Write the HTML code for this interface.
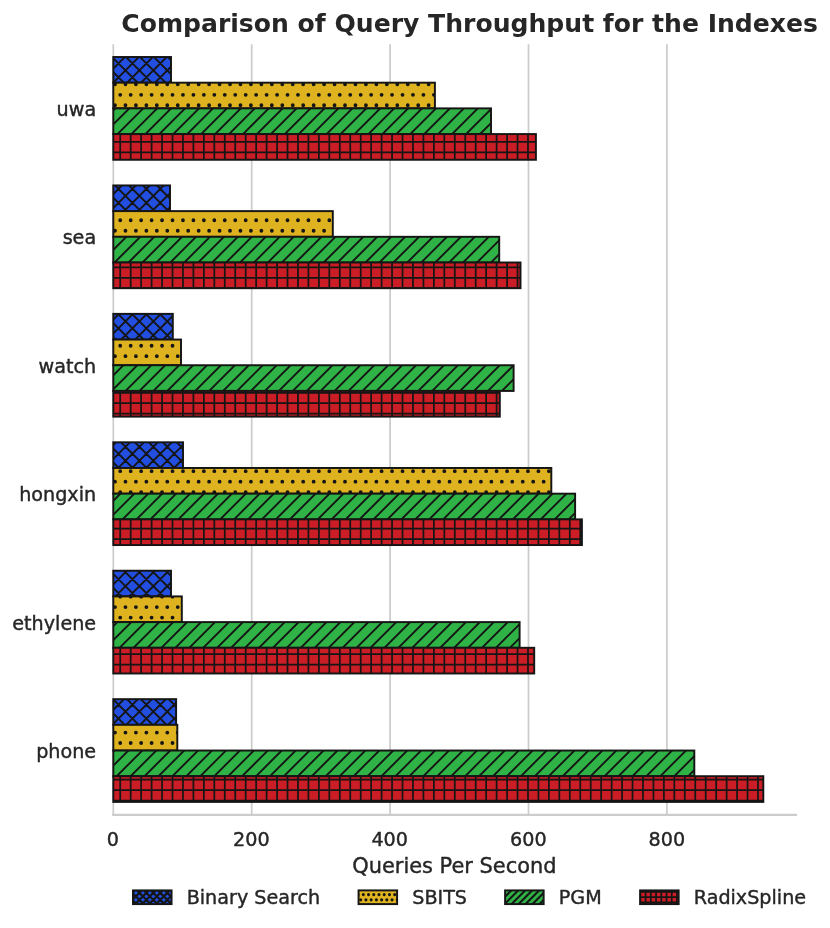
<!DOCTYPE html>
<html><head><meta charset="utf-8"><title>Comparison of Query Throughput for the Indexes</title>
<style>html,body{margin:0;padding:0;background:#fff}body{width:830px;height:928px;overflow:hidden}</style></head>
<body>
<svg width="830" height="928" viewBox="0 0 830 928" style="display:block">
<rect width="830" height="928" fill="#fff"/>
<path d="M113.3 44.16V814.8M251.7 44.16V814.8M390.1 44.16V814.8M528.5 44.16V814.8M666.9 44.16V814.8" stroke="#cccccc" stroke-width="1.74" fill="none"/>
<rect x="113.3" y="57.01" width="57.7" height="25.69" fill="#224fdf"/><svg x="113.3" y="57.01" width="57.7" height="25.69" viewBox="113.3 57.01 57.7 25.69"><path d="M69.35 84.69L99.03 55.01M83.29 84.69L112.97 55.01M97.23 84.69L126.91 55.01M111.17 84.69L140.85 55.01M125.11 84.69L154.79 55.01M139.05 84.69L168.73 55.01M152.99 84.69L182.67 55.01M166.93 84.69L196.61 55.01M68.25 55.01L97.93 84.69M82.19 55.01L111.87 84.69M96.13 55.01L125.81 84.69M110.07 55.01L139.75 84.69M124.01 55.01L153.69 84.69M137.95 55.01L167.63 84.69M151.89 55.01L181.57 84.69M165.83 55.01L195.51 84.69" stroke="#151515" stroke-width="1.9" fill="none"/></svg><rect x="113.3" y="57.01" width="57.7" height="25.69" fill="none" stroke="#151515" stroke-width="1.95"/>

<rect x="113.3" y="185.44" width="56.7" height="25.69" fill="#224fdf"/><svg x="113.3" y="185.44" width="56.7" height="25.69" viewBox="113.3 185.44 56.7 25.69"><path d="M66.38 213.12L96.06 183.44M80.32 213.12L110 183.44M94.26 213.12L123.94 183.44M108.2 213.12L137.88 183.44M122.14 213.12L151.82 183.44M136.08 213.12L165.76 183.44M150.02 213.12L179.7 183.44M163.96 213.12L193.64 183.44M71.22 183.44L100.9 213.12M85.16 183.44L114.84 213.12M99.1 183.44L128.78 213.12M113.04 183.44L142.72 213.12M126.98 183.44L156.66 213.12M140.92 183.44L170.6 213.12M154.86 183.44L184.54 213.12M168.8 183.44L198.48 213.12" stroke="#151515" stroke-width="1.9" fill="none"/></svg><rect x="113.3" y="185.44" width="56.7" height="25.69" fill="none" stroke="#151515" stroke-width="1.95"/>

<rect x="113.3" y="313.87" width="59.5" height="25.69" fill="#224fdf"/><svg x="113.3" y="313.87" width="59.5" height="25.69" viewBox="113.3 313.87 59.5 25.69"><path d="M63.41 341.55L93.09 311.87M77.35 341.55L107.03 311.87M91.29 341.55L120.97 311.87M105.23 341.55L134.91 311.87M119.17 341.55L148.85 311.87M133.11 341.55L162.79 311.87M147.05 341.55L176.73 311.87M160.99 341.55L190.67 311.87M60.25 311.87L89.93 341.55M74.19 311.87L103.87 341.55M88.13 311.87L117.81 341.55M102.07 311.87L131.75 341.55M116.01 311.87L145.69 341.55M129.95 311.87L159.63 341.55M143.89 311.87L173.57 341.55M157.83 311.87L187.51 341.55M171.77 311.87L201.45 341.55" stroke="#151515" stroke-width="1.9" fill="none"/></svg><rect x="113.3" y="313.87" width="59.5" height="25.69" fill="none" stroke="#151515" stroke-width="1.95"/>

<rect x="113.3" y="442.3" width="69.7" height="25.69" fill="#224fdf"/><svg x="113.3" y="442.3" width="69.7" height="25.69" viewBox="113.3 442.3 69.7 25.69"><path d="M60.44 469.98L90.12 440.3M74.38 469.98L104.06 440.3M88.32 469.98L118 440.3M102.26 469.98L131.94 440.3M116.2 469.98L145.88 440.3M130.14 469.98L159.82 440.3M144.08 469.98L173.76 440.3M158.02 469.98L187.7 440.3M171.96 469.98L201.64 440.3M63.22 440.3L92.9 469.98M77.16 440.3L106.84 469.98M91.1 440.3L120.78 469.98M105.04 440.3L134.72 469.98M118.98 440.3L148.66 469.98M132.92 440.3L162.6 469.98M146.86 440.3L176.54 469.98M160.8 440.3L190.48 469.98M174.74 440.3L204.42 469.98" stroke="#151515" stroke-width="1.9" fill="none"/></svg><rect x="113.3" y="442.3" width="69.7" height="25.69" fill="none" stroke="#151515" stroke-width="1.95"/>

<rect x="113.3" y="570.73" width="57.7" height="25.69" fill="#224fdf"/><svg x="113.3" y="570.73" width="57.7" height="25.69" viewBox="113.3 570.73 57.7 25.69"><path d="M71.41 598.41L101.09 568.73M85.35 598.41L115.03 568.73M99.29 598.41L128.97 568.73M113.23 598.41L142.91 568.73M127.17 598.41L156.85 568.73M141.11 598.41L170.79 568.73M155.05 598.41L184.73 568.73M168.99 598.41L198.67 568.73M66.19 568.73L95.87 598.41M80.13 568.73L109.81 598.41M94.07 568.73L123.75 598.41M108.01 568.73L137.69 598.41M121.95 568.73L151.63 598.41M135.89 568.73L165.57 598.41M149.83 568.73L179.51 598.41M163.77 568.73L193.45 598.41" stroke="#151515" stroke-width="1.9" fill="none"/></svg><rect x="113.3" y="570.73" width="57.7" height="25.69" fill="none" stroke="#151515" stroke-width="1.95"/>

<rect x="113.3" y="699.16" width="62.8" height="25.69" fill="#224fdf"/><svg x="113.3" y="699.16" width="62.8" height="25.69" viewBox="113.3 699.16 62.8 25.69"><path d="M68.44 726.84L98.12 697.16M82.38 726.84L112.06 697.16M96.32 726.84L126 697.16M110.26 726.84L139.94 697.16M124.2 726.84L153.88 697.16M138.14 726.84L167.82 697.16M152.08 726.84L181.76 697.16M166.02 726.84L195.7 697.16M69.16 697.16L98.84 726.84M83.1 697.16L112.78 726.84M97.04 697.16L126.72 726.84M110.98 697.16L140.66 726.84M124.92 697.16L154.6 726.84M138.86 697.16L168.54 726.84M152.8 697.16L182.48 726.84M166.74 697.16L196.42 726.84" stroke="#151515" stroke-width="1.9" fill="none"/></svg><rect x="113.3" y="699.16" width="62.8" height="25.69" fill="none" stroke="#151515" stroke-width="1.95"/>

<rect x="113.3" y="82.69" width="321.6" height="25.69" fill="#dfb320"/><svg x="113.3" y="82.69" width="321.6" height="25.69" viewBox="113.3 82.69 321.6 25.69"><path d="M115 84.34h0M125.46 84.34h0M135.91 84.34h0M146.37 84.34h0M156.82 84.34h0M167.28 84.34h0M177.74 84.34h0M188.19 84.34h0M198.65 84.34h0M209.1 84.34h0M219.56 84.34h0M230.01 84.34h0M240.47 84.34h0M250.92 84.34h0M261.38 84.34h0M271.83 84.34h0M282.29 84.34h0M292.74 84.34h0M303.19 84.34h0M313.65 84.34h0M324.11 84.34h0M334.56 84.34h0M345.01 84.34h0M355.47 84.34h0M365.93 84.34h0M376.38 84.34h0M386.83 84.34h0M397.29 84.34h0M407.75 84.34h0M418.2 84.34h0M428.66 84.34h0M120.23 94.8h0M130.69 94.8h0M141.14 94.8h0M151.6 94.8h0M162.05 94.8h0M172.51 94.8h0M182.96 94.8h0M193.42 94.8h0M203.87 94.8h0M214.33 94.8h0M224.78 94.8h0M235.24 94.8h0M245.69 94.8h0M256.15 94.8h0M266.6 94.8h0M277.06 94.8h0M287.51 94.8h0M297.97 94.8h0M308.42 94.8h0M318.88 94.8h0M329.33 94.8h0M339.79 94.8h0M350.24 94.8h0M360.7 94.8h0M371.15 94.8h0M381.61 94.8h0M392.06 94.8h0M402.52 94.8h0M412.97 94.8h0M423.43 94.8h0M433.88 94.8h0M115 105.25h0M125.46 105.25h0M135.91 105.25h0M146.37 105.25h0M156.82 105.25h0M167.28 105.25h0M177.74 105.25h0M188.19 105.25h0M198.65 105.25h0M209.1 105.25h0M219.56 105.25h0M230.01 105.25h0M240.47 105.25h0M250.92 105.25h0M261.38 105.25h0M271.83 105.25h0M282.29 105.25h0M292.74 105.25h0M303.19 105.25h0M313.65 105.25h0M324.11 105.25h0M334.56 105.25h0M345.01 105.25h0M355.47 105.25h0M365.93 105.25h0M376.38 105.25h0M386.83 105.25h0M397.29 105.25h0M407.75 105.25h0M418.2 105.25h0M428.66 105.25h0" stroke="#151515" stroke-width="3.83" stroke-linecap="round" fill="none"/></svg><rect x="113.3" y="82.69" width="321.6" height="25.69" fill="none" stroke="#151515" stroke-width="1.95"/>

<rect x="113.3" y="211.12" width="219.5" height="25.69" fill="#dfb320"/><svg x="113.3" y="211.12" width="219.5" height="25.69" viewBox="113.3 211.12 219.5 25.69"><path d="M115 209.8h0M125.46 209.8h0M135.91 209.8h0M146.37 209.8h0M156.82 209.8h0M167.28 209.8h0M177.74 209.8h0M188.19 209.8h0M198.65 209.8h0M209.1 209.8h0M219.56 209.8h0M230.01 209.8h0M240.47 209.8h0M250.92 209.8h0M261.38 209.8h0M271.83 209.8h0M282.29 209.8h0M292.74 209.8h0M303.19 209.8h0M313.65 209.8h0M324.11 209.8h0M334.56 209.8h0M120.23 220.25h0M130.69 220.25h0M141.14 220.25h0M151.6 220.25h0M162.05 220.25h0M172.51 220.25h0M182.96 220.25h0M193.42 220.25h0M203.87 220.25h0M214.33 220.25h0M224.78 220.25h0M235.24 220.25h0M245.69 220.25h0M256.15 220.25h0M266.6 220.25h0M277.06 220.25h0M287.51 220.25h0M297.97 220.25h0M308.42 220.25h0M318.88 220.25h0M329.33 220.25h0M115 230.71h0M125.46 230.71h0M135.91 230.71h0M146.37 230.71h0M156.82 230.71h0M167.28 230.71h0M177.74 230.71h0M188.19 230.71h0M198.65 230.71h0M209.1 230.71h0M219.56 230.71h0M230.01 230.71h0M240.47 230.71h0M250.92 230.71h0M261.38 230.71h0M271.83 230.71h0M282.29 230.71h0M292.74 230.71h0M303.19 230.71h0M313.65 230.71h0M324.11 230.71h0M334.56 230.71h0" stroke="#151515" stroke-width="3.83" stroke-linecap="round" fill="none"/></svg><rect x="113.3" y="211.12" width="219.5" height="25.69" fill="none" stroke="#151515" stroke-width="1.95"/>

<rect x="113.3" y="339.55" width="67.7" height="25.69" fill="#dfb320"/><svg x="113.3" y="339.55" width="67.7" height="25.69" viewBox="113.3 339.55 67.7 25.69"><path d="M120.23 345.71h0M130.69 345.71h0M141.14 345.71h0M151.6 345.71h0M162.05 345.71h0M172.51 345.71h0M182.96 345.71h0M115 356.17h0M125.46 356.17h0M135.91 356.17h0M146.37 356.17h0M156.82 356.17h0M167.28 356.17h0M177.74 356.17h0M120.23 366.62h0M130.69 366.62h0M141.14 366.62h0M151.6 366.62h0M162.05 366.62h0M172.51 366.62h0M182.96 366.62h0" stroke="#151515" stroke-width="3.83" stroke-linecap="round" fill="none"/></svg><rect x="113.3" y="339.55" width="67.7" height="25.69" fill="none" stroke="#151515" stroke-width="1.95"/>

<rect x="113.3" y="467.98" width="438" height="25.69" fill="#dfb320"/><svg x="113.3" y="467.98" width="438" height="25.69" viewBox="113.3 467.98 438 25.69"><path d="M120.23 471.18h0M130.69 471.18h0M141.14 471.18h0M151.6 471.18h0M162.05 471.18h0M172.51 471.18h0M182.96 471.18h0M193.42 471.18h0M203.87 471.18h0M214.33 471.18h0M224.78 471.18h0M235.24 471.18h0M245.69 471.18h0M256.15 471.18h0M266.6 471.18h0M277.06 471.18h0M287.51 471.18h0M297.97 471.18h0M308.42 471.18h0M318.88 471.18h0M329.33 471.18h0M339.79 471.18h0M350.24 471.18h0M360.7 471.18h0M371.15 471.18h0M381.61 471.18h0M392.06 471.18h0M402.52 471.18h0M412.97 471.18h0M423.43 471.18h0M433.88 471.18h0M444.34 471.18h0M454.79 471.18h0M465.25 471.18h0M475.7 471.18h0M486.16 471.18h0M496.61 471.18h0M507.07 471.18h0M517.52 471.18h0M527.98 471.18h0M538.43 471.18h0M548.89 471.18h0M115 481.63h0M125.46 481.63h0M135.91 481.63h0M146.37 481.63h0M156.82 481.63h0M167.28 481.63h0M177.74 481.63h0M188.19 481.63h0M198.65 481.63h0M209.1 481.63h0M219.56 481.63h0M230.01 481.63h0M240.47 481.63h0M250.92 481.63h0M261.38 481.63h0M271.83 481.63h0M282.29 481.63h0M292.74 481.63h0M303.19 481.63h0M313.65 481.63h0M324.11 481.63h0M334.56 481.63h0M345.01 481.63h0M355.47 481.63h0M365.93 481.63h0M376.38 481.63h0M386.83 481.63h0M397.29 481.63h0M407.75 481.63h0M418.2 481.63h0M428.66 481.63h0M439.11 481.63h0M449.56 481.63h0M460.02 481.63h0M470.48 481.63h0M480.93 481.63h0M491.38 481.63h0M501.84 481.63h0M512.29 481.63h0M522.75 481.63h0M533.21 481.63h0M543.66 481.63h0M554.12 481.63h0M120.23 492.08h0M130.69 492.08h0M141.14 492.08h0M151.6 492.08h0M162.05 492.08h0M172.51 492.08h0M182.96 492.08h0M193.42 492.08h0M203.87 492.08h0M214.33 492.08h0M224.78 492.08h0M235.24 492.08h0M245.69 492.08h0M256.15 492.08h0M266.6 492.08h0M277.06 492.08h0M287.51 492.08h0M297.97 492.08h0M308.42 492.08h0M318.88 492.08h0M329.33 492.08h0M339.79 492.08h0M350.24 492.08h0M360.7 492.08h0M371.15 492.08h0M381.61 492.08h0M392.06 492.08h0M402.52 492.08h0M412.97 492.08h0M423.43 492.08h0M433.88 492.08h0M444.34 492.08h0M454.79 492.08h0M465.25 492.08h0M475.7 492.08h0M486.16 492.08h0M496.61 492.08h0M507.07 492.08h0M517.52 492.08h0M527.98 492.08h0M538.43 492.08h0M548.89 492.08h0" stroke="#151515" stroke-width="3.83" stroke-linecap="round" fill="none"/></svg><rect x="113.3" y="467.98" width="438" height="25.69" fill="none" stroke="#151515" stroke-width="1.95"/>

<rect x="113.3" y="596.41" width="68.5" height="25.69" fill="#dfb320"/><svg x="113.3" y="596.41" width="68.5" height="25.69" viewBox="113.3 596.41 68.5 25.69"><path d="M120.23 596.64h0M130.69 596.64h0M141.14 596.64h0M151.6 596.64h0M162.05 596.64h0M172.51 596.64h0M182.96 596.64h0M115 607.09h0M125.46 607.09h0M135.91 607.09h0M146.37 607.09h0M156.82 607.09h0M167.28 607.09h0M177.74 607.09h0M120.23 617.55h0M130.69 617.55h0M141.14 617.55h0M151.6 617.55h0M162.05 617.55h0M172.51 617.55h0M182.96 617.55h0" stroke="#151515" stroke-width="3.83" stroke-linecap="round" fill="none"/></svg><rect x="113.3" y="596.41" width="68.5" height="25.69" fill="none" stroke="#151515" stroke-width="1.95"/>

<rect x="113.3" y="724.84" width="64" height="25.69" fill="#dfb320"/><svg x="113.3" y="724.84" width="64" height="25.69" viewBox="113.3 724.84 64 25.69"><path d="M120.23 722.1h0M130.69 722.1h0M141.14 722.1h0M151.6 722.1h0M162.05 722.1h0M172.51 722.1h0M115 732.55h0M125.46 732.55h0M135.91 732.55h0M146.37 732.55h0M156.82 732.55h0M167.28 732.55h0M177.74 732.55h0M120.23 743h0M130.69 743h0M141.14 743h0M151.6 743h0M162.05 743h0M172.51 743h0" stroke="#151515" stroke-width="3.83" stroke-linecap="round" fill="none"/></svg><rect x="113.3" y="724.84" width="64" height="25.69" fill="none" stroke="#151515" stroke-width="1.95"/>

<rect x="113.3" y="108.38" width="377.7" height="25.69" fill="#30b346"/><svg x="113.3" y="108.38" width="377.7" height="25.69" viewBox="113.3 108.38 377.7 25.69"><path d="M59.79 136.07L89.48 106.38M73.73 136.07L103.42 106.38M87.67 136.07L117.36 106.38M101.61 136.07L131.3 106.38M115.55 136.07L145.24 106.38M129.49 136.07L159.18 106.38M143.43 136.07L173.12 106.38M157.37 136.07L187.06 106.38M171.31 136.07L201 106.38M185.25 136.07L214.94 106.38M199.19 136.07L228.88 106.38M213.13 136.07L242.82 106.38M227.07 136.07L256.76 106.38M241.01 136.07L270.7 106.38M254.95 136.07L284.64 106.38M268.89 136.07L298.58 106.38M282.83 136.07L312.52 106.38M296.77 136.07L326.46 106.38M310.71 136.07L340.4 106.38M324.65 136.07L354.34 106.38M338.59 136.07L368.28 106.38M352.53 136.07L382.22 106.38M366.47 136.07L396.16 106.38M380.41 136.07L410.1 106.38M394.35 136.07L424.04 106.38M408.29 136.07L437.98 106.38M422.23 136.07L451.92 106.38M436.17 136.07L465.86 106.38M450.11 136.07L479.8 106.38M464.05 136.07L493.74 106.38M477.99 136.07L507.68 106.38M491.93 136.07L521.62 106.38" stroke="#151515" stroke-width="1.9" fill="none"/></svg><rect x="113.3" y="108.38" width="377.7" height="25.69" fill="none" stroke="#151515" stroke-width="1.95"/>

<rect x="113.3" y="236.81" width="385.9" height="25.69" fill="#30b346"/><svg x="113.3" y="236.81" width="385.9" height="25.69" viewBox="113.3 236.81 385.9 25.69"><path d="M70.76 264.5L100.45 234.81M84.7 264.5L114.39 234.81M98.64 264.5L128.33 234.81M112.58 264.5L142.27 234.81M126.52 264.5L156.21 234.81M140.46 264.5L170.15 234.81M154.4 264.5L184.09 234.81M168.34 264.5L198.03 234.81M182.28 264.5L211.97 234.81M196.22 264.5L225.91 234.81M210.16 264.5L239.85 234.81M224.1 264.5L253.79 234.81M238.04 264.5L267.73 234.81M251.98 264.5L281.67 234.81M265.92 264.5L295.61 234.81M279.86 264.5L309.55 234.81M293.8 264.5L323.49 234.81M307.74 264.5L337.43 234.81M321.68 264.5L351.37 234.81M335.62 264.5L365.31 234.81M349.56 264.5L379.25 234.81M363.5 264.5L393.19 234.81M377.44 264.5L407.13 234.81M391.38 264.5L421.07 234.81M405.32 264.5L435.01 234.81M419.26 264.5L448.95 234.81M433.2 264.5L462.89 234.81M447.14 264.5L476.83 234.81M461.08 264.5L490.77 234.81M475.02 264.5L504.71 234.81M488.96 264.5L518.65 234.81" stroke="#151515" stroke-width="1.9" fill="none"/></svg><rect x="113.3" y="236.81" width="385.9" height="25.69" fill="none" stroke="#151515" stroke-width="1.95"/>

<rect x="113.3" y="365.24" width="400.3" height="25.69" fill="#30b346"/><svg x="113.3" y="365.24" width="400.3" height="25.69" viewBox="113.3 365.24 400.3 25.69"><path d="M67.79 392.93L97.48 363.24M81.73 392.93L111.42 363.24M95.67 392.93L125.36 363.24M109.61 392.93L139.3 363.24M123.55 392.93L153.24 363.24M137.49 392.93L167.18 363.24M151.43 392.93L181.12 363.24M165.37 392.93L195.06 363.24M179.31 392.93L209 363.24M193.25 392.93L222.94 363.24M207.19 392.93L236.88 363.24M221.13 392.93L250.82 363.24M235.07 392.93L264.76 363.24M249.01 392.93L278.7 363.24M262.95 392.93L292.64 363.24M276.89 392.93L306.58 363.24M290.83 392.93L320.52 363.24M304.77 392.93L334.46 363.24M318.71 392.93L348.4 363.24M332.65 392.93L362.34 363.24M346.59 392.93L376.28 363.24M360.53 392.93L390.22 363.24M374.47 392.93L404.16 363.24M388.41 392.93L418.1 363.24M402.35 392.93L432.04 363.24M416.29 392.93L445.98 363.24M430.23 392.93L459.92 363.24M444.17 392.93L473.86 363.24M458.11 392.93L487.8 363.24M472.05 392.93L501.74 363.24M485.99 392.93L515.68 363.24M499.93 392.93L529.62 363.24M513.87 392.93L543.56 363.24" stroke="#151515" stroke-width="1.9" fill="none"/></svg><rect x="113.3" y="365.24" width="400.3" height="25.69" fill="none" stroke="#151515" stroke-width="1.95"/>

<rect x="113.3" y="493.67" width="461.8" height="25.69" fill="#30b346"/><svg x="113.3" y="493.67" width="461.8" height="25.69" viewBox="113.3 493.67 461.8 25.69"><path d="M64.82 521.36L94.51 491.67M78.76 521.36L108.45 491.67M92.7 521.36L122.39 491.67M106.64 521.36L136.33 491.67M120.58 521.36L150.27 491.67M134.52 521.36L164.21 491.67M148.46 521.36L178.15 491.67M162.4 521.36L192.09 491.67M176.34 521.36L206.03 491.67M190.28 521.36L219.97 491.67M204.22 521.36L233.91 491.67M218.16 521.36L247.85 491.67M232.1 521.36L261.79 491.67M246.04 521.36L275.73 491.67M259.98 521.36L289.67 491.67M273.92 521.36L303.61 491.67M287.86 521.36L317.55 491.67M301.8 521.36L331.49 491.67M315.74 521.36L345.43 491.67M329.68 521.36L359.37 491.67M343.62 521.36L373.31 491.67M357.56 521.36L387.25 491.67M371.5 521.36L401.19 491.67M385.44 521.36L415.13 491.67M399.38 521.36L429.07 491.67M413.32 521.36L443.01 491.67M427.26 521.36L456.95 491.67M441.2 521.36L470.89 491.67M455.14 521.36L484.83 491.67M469.08 521.36L498.77 491.67M483.02 521.36L512.71 491.67M496.96 521.36L526.65 491.67M510.9 521.36L540.59 491.67M524.84 521.36L554.53 491.67M538.78 521.36L568.47 491.67M552.72 521.36L582.41 491.67M566.66 521.36L596.35 491.67" stroke="#151515" stroke-width="1.9" fill="none"/></svg><rect x="113.3" y="493.67" width="461.8" height="25.69" fill="none" stroke="#151515" stroke-width="1.95"/>

<rect x="113.3" y="622.1" width="406.3" height="25.69" fill="#30b346"/><svg x="113.3" y="622.1" width="406.3" height="25.69" viewBox="113.3 622.1 406.3 25.69"><path d="M61.85 649.79L91.54 620.1M75.79 649.79L105.48 620.1M89.73 649.79L119.42 620.1M103.67 649.79L133.36 620.1M117.61 649.79L147.3 620.1M131.55 649.79L161.24 620.1M145.49 649.79L175.18 620.1M159.43 649.79L189.12 620.1M173.37 649.79L203.06 620.1M187.31 649.79L217 620.1M201.25 649.79L230.94 620.1M215.19 649.79L244.88 620.1M229.13 649.79L258.82 620.1M243.07 649.79L272.76 620.1M257.01 649.79L286.7 620.1M270.95 649.79L300.64 620.1M284.89 649.79L314.58 620.1M298.83 649.79L328.52 620.1M312.77 649.79L342.46 620.1M326.71 649.79L356.4 620.1M340.65 649.79L370.34 620.1M354.59 649.79L384.28 620.1M368.53 649.79L398.22 620.1M382.47 649.79L412.16 620.1M396.41 649.79L426.1 620.1M410.35 649.79L440.04 620.1M424.29 649.79L453.98 620.1M438.23 649.79L467.92 620.1M452.17 649.79L481.86 620.1M466.11 649.79L495.8 620.1M480.05 649.79L509.74 620.1M493.99 649.79L523.68 620.1M507.93 649.79L537.62 620.1" stroke="#151515" stroke-width="1.9" fill="none"/></svg><rect x="113.3" y="622.1" width="406.3" height="25.69" fill="none" stroke="#151515" stroke-width="1.95"/>

<rect x="113.3" y="750.53" width="581" height="25.69" fill="#30b346"/><svg x="113.3" y="750.53" width="581" height="25.69" viewBox="113.3 750.53 581 25.69"><path d="M58.88 778.22L88.57 748.53M72.82 778.22L102.51 748.53M86.76 778.22L116.45 748.53M100.7 778.22L130.39 748.53M114.64 778.22L144.33 748.53M128.58 778.22L158.27 748.53M142.52 778.22L172.21 748.53M156.46 778.22L186.15 748.53M170.4 778.22L200.09 748.53M184.34 778.22L214.03 748.53M198.28 778.22L227.97 748.53M212.22 778.22L241.91 748.53M226.16 778.22L255.85 748.53M240.1 778.22L269.79 748.53M254.04 778.22L283.73 748.53M267.98 778.22L297.67 748.53M281.92 778.22L311.61 748.53M295.86 778.22L325.55 748.53M309.8 778.22L339.49 748.53M323.74 778.22L353.43 748.53M337.68 778.22L367.37 748.53M351.62 778.22L381.31 748.53M365.56 778.22L395.25 748.53M379.5 778.22L409.19 748.53M393.44 778.22L423.13 748.53M407.38 778.22L437.07 748.53M421.32 778.22L451.01 748.53M435.26 778.22L464.95 748.53M449.2 778.22L478.89 748.53M463.14 778.22L492.83 748.53M477.08 778.22L506.77 748.53M491.02 778.22L520.71 748.53M504.96 778.22L534.65 748.53M518.9 778.22L548.59 748.53M532.84 778.22L562.53 748.53M546.78 778.22L576.47 748.53M560.72 778.22L590.41 748.53M574.66 778.22L604.35 748.53M588.6 778.22L618.29 748.53M602.54 778.22L632.23 748.53M616.48 778.22L646.17 748.53M630.42 778.22L660.11 748.53M644.36 778.22L674.05 748.53M658.3 778.22L687.99 748.53M672.24 778.22L701.93 748.53M686.18 778.22L715.87 748.53" stroke="#151515" stroke-width="1.9" fill="none"/></svg><rect x="113.3" y="750.53" width="581" height="25.69" fill="none" stroke="#151515" stroke-width="1.95"/>

<rect x="113.3" y="134.07" width="422.6" height="25.69" fill="#cb1d25"/><svg x="113.3" y="134.07" width="422.6" height="25.69" viewBox="113.3 134.07 422.6 25.69"><path d="M120.23 134.07V159.75M130.69 134.07V159.75M141.14 134.07V159.75M151.6 134.07V159.75M162.05 134.07V159.75M172.51 134.07V159.75M182.96 134.07V159.75M193.42 134.07V159.75M203.87 134.07V159.75M214.33 134.07V159.75M224.78 134.07V159.75M235.24 134.07V159.75M245.69 134.07V159.75M256.15 134.07V159.75M266.6 134.07V159.75M277.06 134.07V159.75M287.51 134.07V159.75M297.97 134.07V159.75M308.42 134.07V159.75M318.88 134.07V159.75M329.33 134.07V159.75M339.79 134.07V159.75M350.24 134.07V159.75M360.7 134.07V159.75M371.15 134.07V159.75M381.61 134.07V159.75M392.06 134.07V159.75M402.52 134.07V159.75M412.97 134.07V159.75M423.43 134.07V159.75M433.88 134.07V159.75M444.34 134.07V159.75M454.79 134.07V159.75M465.25 134.07V159.75M475.7 134.07V159.75M486.16 134.07V159.75M496.61 134.07V159.75M507.07 134.07V159.75M517.52 134.07V159.75M527.98 134.07V159.75M113.3 141.84H535.9M113.3 152.3H535.9" stroke="#151515" stroke-width="1.74" fill="none"/></svg><rect x="113.3" y="134.07" width="422.6" height="25.69" fill="none" stroke="#151515" stroke-width="1.95"/>

<rect x="113.3" y="262.5" width="407.2" height="25.69" fill="#cb1d25"/><svg x="113.3" y="262.5" width="407.2" height="25.69" viewBox="113.3 262.5 407.2 25.69"><path d="M120.23 262.5V288.18M130.69 262.5V288.18M141.14 262.5V288.18M151.6 262.5V288.18M162.05 262.5V288.18M172.51 262.5V288.18M182.96 262.5V288.18M193.42 262.5V288.18M203.87 262.5V288.18M214.33 262.5V288.18M224.78 262.5V288.18M235.24 262.5V288.18M245.69 262.5V288.18M256.15 262.5V288.18M266.6 262.5V288.18M277.06 262.5V288.18M287.51 262.5V288.18M297.97 262.5V288.18M308.42 262.5V288.18M318.88 262.5V288.18M329.33 262.5V288.18M339.79 262.5V288.18M350.24 262.5V288.18M360.7 262.5V288.18M371.15 262.5V288.18M381.61 262.5V288.18M392.06 262.5V288.18M402.52 262.5V288.18M412.97 262.5V288.18M423.43 262.5V288.18M433.88 262.5V288.18M444.34 262.5V288.18M454.79 262.5V288.18M465.25 262.5V288.18M475.7 262.5V288.18M486.16 262.5V288.18M496.61 262.5V288.18M507.07 262.5V288.18M517.52 262.5V288.18M113.3 267.3H520.5M113.3 277.76H520.5M113.3 288.21H520.5" stroke="#151515" stroke-width="1.74" fill="none"/></svg><rect x="113.3" y="262.5" width="407.2" height="25.69" fill="none" stroke="#151515" stroke-width="1.95"/>

<rect x="113.3" y="390.93" width="386.5" height="25.69" fill="#cb1d25"/><svg x="113.3" y="390.93" width="386.5" height="25.69" viewBox="113.3 390.93 386.5 25.69"><path d="M120.23 390.93V416.61M130.69 390.93V416.61M141.14 390.93V416.61M151.6 390.93V416.61M162.05 390.93V416.61M172.51 390.93V416.61M182.96 390.93V416.61M193.42 390.93V416.61M203.87 390.93V416.61M214.33 390.93V416.61M224.78 390.93V416.61M235.24 390.93V416.61M245.69 390.93V416.61M256.15 390.93V416.61M266.6 390.93V416.61M277.06 390.93V416.61M287.51 390.93V416.61M297.97 390.93V416.61M308.42 390.93V416.61M318.88 390.93V416.61M329.33 390.93V416.61M339.79 390.93V416.61M350.24 390.93V416.61M360.7 390.93V416.61M371.15 390.93V416.61M381.61 390.93V416.61M392.06 390.93V416.61M402.52 390.93V416.61M412.97 390.93V416.61M423.43 390.93V416.61M433.88 390.93V416.61M444.34 390.93V416.61M454.79 390.93V416.61M465.25 390.93V416.61M475.7 390.93V416.61M486.16 390.93V416.61M496.61 390.93V416.61M113.3 392.76H499.8M113.3 403.22H499.8M113.3 413.67H499.8" stroke="#151515" stroke-width="1.74" fill="none"/></svg><rect x="113.3" y="390.93" width="386.5" height="25.69" fill="none" stroke="#151515" stroke-width="1.95"/>

<rect x="113.3" y="519.36" width="468.6" height="25.69" fill="#cb1d25"/><svg x="113.3" y="519.36" width="468.6" height="25.69" viewBox="113.3 519.36 468.6 25.69"><path d="M120.23 519.36V545.04M130.69 519.36V545.04M141.14 519.36V545.04M151.6 519.36V545.04M162.05 519.36V545.04M172.51 519.36V545.04M182.96 519.36V545.04M193.42 519.36V545.04M203.87 519.36V545.04M214.33 519.36V545.04M224.78 519.36V545.04M235.24 519.36V545.04M245.69 519.36V545.04M256.15 519.36V545.04M266.6 519.36V545.04M277.06 519.36V545.04M287.51 519.36V545.04M297.97 519.36V545.04M308.42 519.36V545.04M318.88 519.36V545.04M329.33 519.36V545.04M339.79 519.36V545.04M350.24 519.36V545.04M360.7 519.36V545.04M371.15 519.36V545.04M381.61 519.36V545.04M392.06 519.36V545.04M402.52 519.36V545.04M412.97 519.36V545.04M423.43 519.36V545.04M433.88 519.36V545.04M444.34 519.36V545.04M454.79 519.36V545.04M465.25 519.36V545.04M475.7 519.36V545.04M486.16 519.36V545.04M496.61 519.36V545.04M507.07 519.36V545.04M517.52 519.36V545.04M527.98 519.36V545.04M538.43 519.36V545.04M548.89 519.36V545.04M559.34 519.36V545.04M569.8 519.36V545.04M580.25 519.36V545.04M113.3 518.22H581.9M113.3 528.68H581.9M113.3 539.13H581.9" stroke="#151515" stroke-width="1.74" fill="none"/></svg><rect x="113.3" y="519.36" width="468.6" height="25.69" fill="none" stroke="#151515" stroke-width="1.95"/>

<rect x="113.3" y="647.79" width="420.9" height="25.69" fill="#cb1d25"/><svg x="113.3" y="647.79" width="420.9" height="25.69" viewBox="113.3 647.79 420.9 25.69"><path d="M120.23 647.79V673.47M130.69 647.79V673.47M141.14 647.79V673.47M151.6 647.79V673.47M162.05 647.79V673.47M172.51 647.79V673.47M182.96 647.79V673.47M193.42 647.79V673.47M203.87 647.79V673.47M214.33 647.79V673.47M224.78 647.79V673.47M235.24 647.79V673.47M245.69 647.79V673.47M256.15 647.79V673.47M266.6 647.79V673.47M277.06 647.79V673.47M287.51 647.79V673.47M297.97 647.79V673.47M308.42 647.79V673.47M318.88 647.79V673.47M329.33 647.79V673.47M339.79 647.79V673.47M350.24 647.79V673.47M360.7 647.79V673.47M371.15 647.79V673.47M381.61 647.79V673.47M392.06 647.79V673.47M402.52 647.79V673.47M412.97 647.79V673.47M423.43 647.79V673.47M433.88 647.79V673.47M444.34 647.79V673.47M454.79 647.79V673.47M465.25 647.79V673.47M475.7 647.79V673.47M486.16 647.79V673.47M496.61 647.79V673.47M507.07 647.79V673.47M517.52 647.79V673.47M527.98 647.79V673.47M113.3 654.14H534.2M113.3 664.59H534.2M113.3 675.05H534.2" stroke="#151515" stroke-width="1.74" fill="none"/></svg><rect x="113.3" y="647.79" width="420.9" height="25.69" fill="none" stroke="#151515" stroke-width="1.95"/>

<rect x="113.3" y="776.22" width="650" height="25.69" fill="#cb1d25"/><svg x="113.3" y="776.22" width="650" height="25.69" viewBox="113.3 776.22 650 25.69"><path d="M120.23 776.22V801.9M130.69 776.22V801.9M141.14 776.22V801.9M151.6 776.22V801.9M162.05 776.22V801.9M172.51 776.22V801.9M182.96 776.22V801.9M193.42 776.22V801.9M203.87 776.22V801.9M214.33 776.22V801.9M224.78 776.22V801.9M235.24 776.22V801.9M245.69 776.22V801.9M256.15 776.22V801.9M266.6 776.22V801.9M277.06 776.22V801.9M287.51 776.22V801.9M297.97 776.22V801.9M308.42 776.22V801.9M318.88 776.22V801.9M329.33 776.22V801.9M339.79 776.22V801.9M350.24 776.22V801.9M360.7 776.22V801.9M371.15 776.22V801.9M381.61 776.22V801.9M392.06 776.22V801.9M402.52 776.22V801.9M412.97 776.22V801.9M423.43 776.22V801.9M433.88 776.22V801.9M444.34 776.22V801.9M454.79 776.22V801.9M465.25 776.22V801.9M475.7 776.22V801.9M486.16 776.22V801.9M496.61 776.22V801.9M507.07 776.22V801.9M517.52 776.22V801.9M527.98 776.22V801.9M538.43 776.22V801.9M548.89 776.22V801.9M559.34 776.22V801.9M569.8 776.22V801.9M580.25 776.22V801.9M590.71 776.22V801.9M601.16 776.22V801.9M611.62 776.22V801.9M622.07 776.22V801.9M632.53 776.22V801.9M642.98 776.22V801.9M653.44 776.22V801.9M663.89 776.22V801.9M674.35 776.22V801.9M684.8 776.22V801.9M695.26 776.22V801.9M705.71 776.22V801.9M716.17 776.22V801.9M726.62 776.22V801.9M737.08 776.22V801.9M747.53 776.22V801.9M757.99 776.22V801.9M113.3 779.6H763.3M113.3 790.05H763.3M113.3 800.51H763.3" stroke="#151515" stroke-width="1.74" fill="none"/></svg><rect x="113.3" y="776.22" width="650" height="25.69" fill="none" stroke="#151515" stroke-width="1.95"/>

<path d="M113.3 814.8H796" stroke="#cccccc" stroke-width="2.18" stroke-linecap="square" fill="none"/>
<g font-family="'DejaVu Sans', 'Liberation Sans', sans-serif" fill="#262626" stroke="#262626" stroke-width="0.4">
<text x="469.6" y="32" font-size="25.09" font-weight="bold" stroke="none" text-anchor="middle">Comparison of Query Throughput for the Indexes</text>
<text x="96.15" y="116" font-size="19.17" text-anchor="end">uwa</text>
<text x="96.15" y="244" font-size="19.17" text-anchor="end">sea</text>
<text x="96.15" y="373" font-size="19.17" text-anchor="end">watch</text>
<text x="96.15" y="501" font-size="19.17" text-anchor="end">hongxin</text>
<text x="96.15" y="630" font-size="19.17" text-anchor="end">ethylene</text>
<text x="96.15" y="758" font-size="19.17" text-anchor="end">phone</text>
<text x="112.9" y="846" font-size="19.17" text-anchor="middle">0</text>
<text x="251.3" y="846" font-size="19.17" text-anchor="middle">200</text>
<text x="389.7" y="846" font-size="19.17" text-anchor="middle">400</text>
<text x="528.4" y="846" font-size="19.17" text-anchor="middle">600</text>
<text x="666.8" y="846" font-size="19.17" text-anchor="middle">800</text>
<text x="454.4" y="873" font-size="20.91" text-anchor="middle">Queries Per Second</text>
<text x="186.66" y="904" font-size="19.17">Binary Search</text>
<text x="412.22" y="904" font-size="19.17">SBITS</text>
<text x="558.76" y="904" font-size="19.17">PGM</text>
<text x="693.76" y="904" font-size="19.17">RadixSpline</text>
</g>
<rect x="133" y="890.4" width="38.55" height="13.7" fill="#224fdf"/><svg x="133" y="890.4" width="38.55" height="13.7" viewBox="133 890.4 38.55 13.7"><path d="M105.25 906.1L122.95 888.4M112.22 906.1L129.92 888.4M119.19 906.1L136.89 888.4M126.16 906.1L143.86 888.4M133.13 906.1L150.83 888.4M140.1 906.1L157.8 888.4M147.07 906.1L164.77 888.4M154.04 906.1L171.74 888.4M161.01 906.1L178.71 888.4M167.98 906.1L185.68 888.4M107.06 888.4L124.76 906.1M114.03 888.4L131.73 906.1M121 888.4L138.7 906.1M127.97 888.4L145.67 906.1M134.94 888.4L152.64 906.1M141.91 888.4L159.61 906.1M148.88 888.4L166.58 906.1M155.85 888.4L173.55 906.1M162.82 888.4L180.52 906.1M169.79 888.4L187.49 906.1" stroke="#151515" stroke-width="2.1" fill="none"/></svg><rect x="133" y="890.4" width="38.55" height="13.7" fill="none" stroke="#151515" stroke-width="1.95"/>

<rect x="358.56" y="890.4" width="38.55" height="13.7" fill="#dfb320"/><svg x="358.56" y="890.4" width="38.55" height="13.7" viewBox="358.56 890.4 38.55 13.7"><path d="M360.7 889.38h0M365.93 889.38h0M371.15 889.38h0M376.38 889.38h0M381.61 889.38h0M386.83 889.38h0M392.06 889.38h0M397.29 889.38h0M358.08 894.6h0M363.31 894.6h0M368.54 894.6h0M373.77 894.6h0M378.99 894.6h0M384.22 894.6h0M389.45 894.6h0M394.68 894.6h0M360.7 899.83h0M365.93 899.83h0M371.15 899.83h0M376.38 899.83h0M381.61 899.83h0M386.83 899.83h0M392.06 899.83h0M397.29 899.83h0M358.08 905.06h0M363.31 905.06h0M368.54 905.06h0M373.77 905.06h0M378.99 905.06h0M384.22 905.06h0M389.45 905.06h0M394.68 905.06h0" stroke="#151515" stroke-width="3.13" stroke-linecap="round" fill="none"/></svg><rect x="358.56" y="890.4" width="38.55" height="13.7" fill="none" stroke="#151515" stroke-width="1.95"/>

<rect x="505.1" y="890.4" width="38.55" height="13.7" fill="#30b346"/><svg x="505.1" y="890.4" width="38.55" height="13.7" viewBox="505.1 890.4 38.55 13.7"><path d="M481.63 906.1L499.33 888.4M488.6 906.1L506.3 888.4M495.57 906.1L513.27 888.4M502.54 906.1L520.24 888.4M509.51 906.1L527.21 888.4M516.48 906.1L534.18 888.4M523.45 906.1L541.15 888.4M530.42 906.1L548.12 888.4M537.39 906.1L555.09 888.4M544.36 906.1L562.06 888.4" stroke="#151515" stroke-width="2.1" fill="none"/></svg><rect x="505.1" y="890.4" width="38.55" height="13.7" fill="none" stroke="#151515" stroke-width="1.95"/>

<rect x="640.1" y="890.4" width="38.55" height="13.7" fill="#cb1d25"/><svg x="640.1" y="890.4" width="38.55" height="13.7" viewBox="640.1 890.4 38.55 13.7"><path d="M640.37 890.4V904.1M645.6 890.4V904.1M650.82 890.4V904.1M656.05 890.4V904.1M661.28 890.4V904.1M666.51 890.4V904.1M671.73 890.4V904.1M676.96 890.4V904.1M640.1 891.99H678.65M640.1 897.22H678.65M640.1 902.44H678.65" stroke="#151515" stroke-width="1.74" fill="none"/></svg><rect x="640.1" y="890.4" width="38.55" height="13.7" fill="none" stroke="#151515" stroke-width="1.95"/>

</svg>
</body></html>
